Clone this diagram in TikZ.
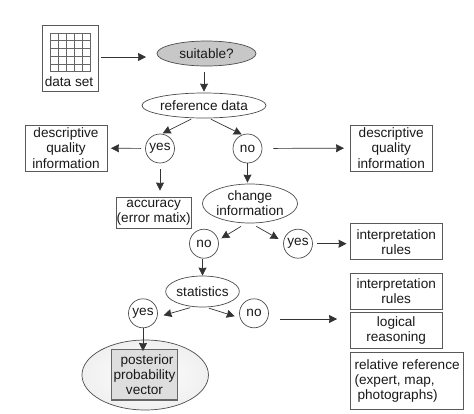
\documentclass[tikz,border=0pt]{standalone}
\usepackage{fontspec}
\setmainfont{Liberation Sans}
\usetikzlibrary{arrows.meta, shapes.geometric}

\begin{document}
\begin{tikzpicture}[x=1pt, y=-1pt, >={Stealth[length=8pt, width=8pt, inset=0.5pt]},
    every node/.style={font=\fontsize{13.6}{15.2}\selectfont, text=black!90, inner sep=0pt, align=center},
    box/.style={draw=black!65, line width=0.8pt, rectangle},
    oval/.style={draw=black!70, line width=0.7pt, ellipse},
    answer/.style={draw=black!70, line width=0.7pt, circle, minimum size=29pt},
    link/.style={->, draw=black!80, line width=0.7pt}]
  \useasboundingbox (0,0) rectangle (474,413);

  \node[box, minimum width=56pt, minimum height=65.5pt] (dataset) at (70,58.2) {};
  \foreach \gx in {50.3,58.3,66.3,74.3,82.3,90}
    \draw[black!60, line width=0.5pt] (\gx,33.3) -- (\gx,71.7);
  \foreach \gy in {33.3,40.7,48.7,56.7,64,71.7}
    \draw[black!60, line width=0.5pt] (50.3,\gy) -- (90,\gy);
  \node (datalabel) at (69,81.5) {data set};

  \node[oval, fill=black!22, minimum width=99pt, minimum height=25pt] (suitable) at (206.5,53.5) {suitable?};
  \node[oval, minimum width=98pt, minimum height=25pt] (refdata) at (204,105.5) {reference data};
  \node[answer] (yesA) at (160,148.5) {yes};
  \node[answer] (noA) at (247.5,148.5) {no};
  \node[box, minimum width=82pt, minimum height=46pt] (descleft) at (66,148) {descriptive\\quality\\information};
  \node[box, minimum width=81.5pt, minimum height=46pt] (descright) at (391.2,148) {descriptive\\quality\\information};
  \node[box, minimum width=75.5pt, minimum height=31.5pt] (accuracy) at (153.7,212.7) {accuracy\\(error matix)};
  \node[oval, minimum width=94pt, minimum height=39pt] (change) at (250,203.5) {change\\information};
  \node[answer] (noB) at (204,243.7) {no};
  \node[answer] (yesB) at (298,243.7) {yes};
  \node[box, minimum width=91.5pt, minimum height=36pt] (rulesA) at (396.2,241.8) {interpretation\\rules};
  \node[oval, minimum width=65pt, minimum height=31pt] (statistics) at (202.5,291.5) {statistics};
  \node[answer] (yesC) at (143,313.3) {yes};
  \node[answer] (noC) at (254,313.3) {no};
  \node[box, minimum width=91.5pt, minimum height=35.7pt] (rulesB) at (396.2,291.2) {interpretation\\rules};
  \node[box, minimum width=91.5pt, minimum height=35.7pt] (logical) at (396.2,330.5) {logical\\reasoning};
  \node[box, minimum width=113.2pt, minimum height=57.3pt, align=left] (relative) at (407.1,380.7) {relative reference\\(expert, map,\\\hspace{3pt}photographs)};
  \node[oval, inner color=white, outer color=black!6, minimum width=126.5pt, minimum height=70pt] (outcome) at (145.2,375) {};
  \node[box, fill=black!13, draw=black!60, line width=1.5pt, minimum width=66pt, minimum height=50.5pt] (posterior) at (144.5,374.5) {\hspace{5pt}posterior\\probability\\vector};

  \draw[link, shorten <=3pt] (dataset.east |- 0,57) -- (146,57);
  \draw[link, shorten <=6pt, shorten >=1pt] (suitable.south -| 204,0) -- (refdata.north -| 204,0);
  \draw[link, shorten <=2pt, shorten >=1pt] (refdata.229) -- (yesA.83);
  \draw[link, shorten <=2pt, shorten >=0.5pt] (refdata.292) -- (noA.111);
  \draw[link, shorten <=4pt, shorten >=3.5pt] (yesA) -- (descleft);
  \draw[link, shorten <=6pt, shorten >=6pt] (yesA) -- (yesA |- accuracy.north);
  \draw[link, shorten >=1pt] (noA) -- (noA |- change.north);
  \draw[link, shorten <=11pt, shorten >=6pt] (noA) -- (descright);
  \draw[link, shorten <=6pt, shorten >=3.5pt] (change.259) -- (noB.14);
  \draw[link, shorten <=6pt, shorten >=5.5pt] (change.273) -- (yesB.172);
  \draw[link] (noB.south -| statistics) -- (statistics);
  \draw[link, shorten <=4pt, shorten >=3.5pt] (yesB) -- (rulesA.west |- yesB);
  \draw[link, shorten <=3pt, shorten >=6.5pt] (statistics.238) -- (yesC.345);
  \draw[link, shorten <=3pt, shorten >=5.5pt] (statistics.283) -- (noC.198);
  \draw[link, shorten <=11pt, shorten >=13pt] (noC.east |- 0,319) -- (logical.west |- 0,319);
  \draw[link, shorten >=-2.5pt] (yesC) -- (yesC |- posterior.north);
\end{tikzpicture}
\end{document}
